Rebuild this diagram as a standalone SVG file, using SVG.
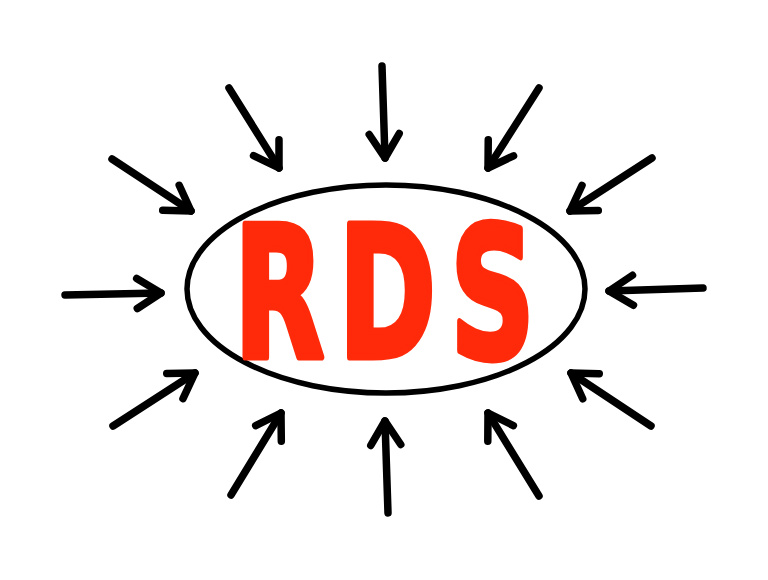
<svg xmlns="http://www.w3.org/2000/svg" width="768" height="580" viewBox="0 0 768 580">
  <defs>
    <style>
      .arrow { stroke: #000; stroke-width: 7.5; stroke-linecap: round; fill: none; marker-end: url(#head); }
      .oval { fill: #fff; stroke: #000; stroke-width: 5.5; }
      .label { font-family: "DejaVu Sans", "Liberation Sans", sans-serif; font-weight: bold; fill: #ff2a0a; stroke: #ff2a0a; stroke-width: 7; stroke-linejoin: round; }
    </style>
    <marker id="head" markerUnits="userSpaceOnUse" viewBox="-30 -20 40 40" markerWidth="40" markerHeight="40" refX="0" refY="0" orient="auto" overflow="visible">
      <path d="M-24,-15 L0,0 L-24,15" fill="none" stroke="#000" stroke-width="7.5" stroke-linecap="round" stroke-linejoin="round"/>
    </marker>
  </defs>
  <rect width="768" height="580" fill="#fff"/>
  <g id="connectors">
    <line class="arrow" x1="112" y1="159" x2="191" y2="211"/>
    <line class="arrow" x1="229" y1="88" x2="279" y2="168"/>
    <line class="arrow" x1="382" y1="66" x2="385" y2="158"/>
    <line class="arrow" x1="539" y1="88" x2="488" y2="168"/>
    <line class="arrow" x1="652" y1="158" x2="570" y2="211"/>
    <line class="arrow" x1="65" y1="295" x2="161" y2="293"/>
    <line class="arrow" x1="703" y1="288" x2="609" y2="291"/>
    <line class="arrow" x1="113" y1="426" x2="195" y2="373"/>
    <line class="arrow" x1="231" y1="495" x2="281" y2="413"/>
    <line class="arrow" x1="388" y1="513" x2="385" y2="421"/>
    <line class="arrow" x1="539" y1="496" x2="488" y2="413"/>
    <line class="arrow" x1="651" y1="426" x2="571" y2="373"/>
  </g>
  <g id="rds">
    <ellipse class="oval" cx="386" cy="289" rx="199" ry="104"/>
    <text class="label" transform="translate(234,357) scale(0.645,1)" x="0" y="0" font-size="182" letter-spacing="22">RDS</text>
  </g>
</svg>
